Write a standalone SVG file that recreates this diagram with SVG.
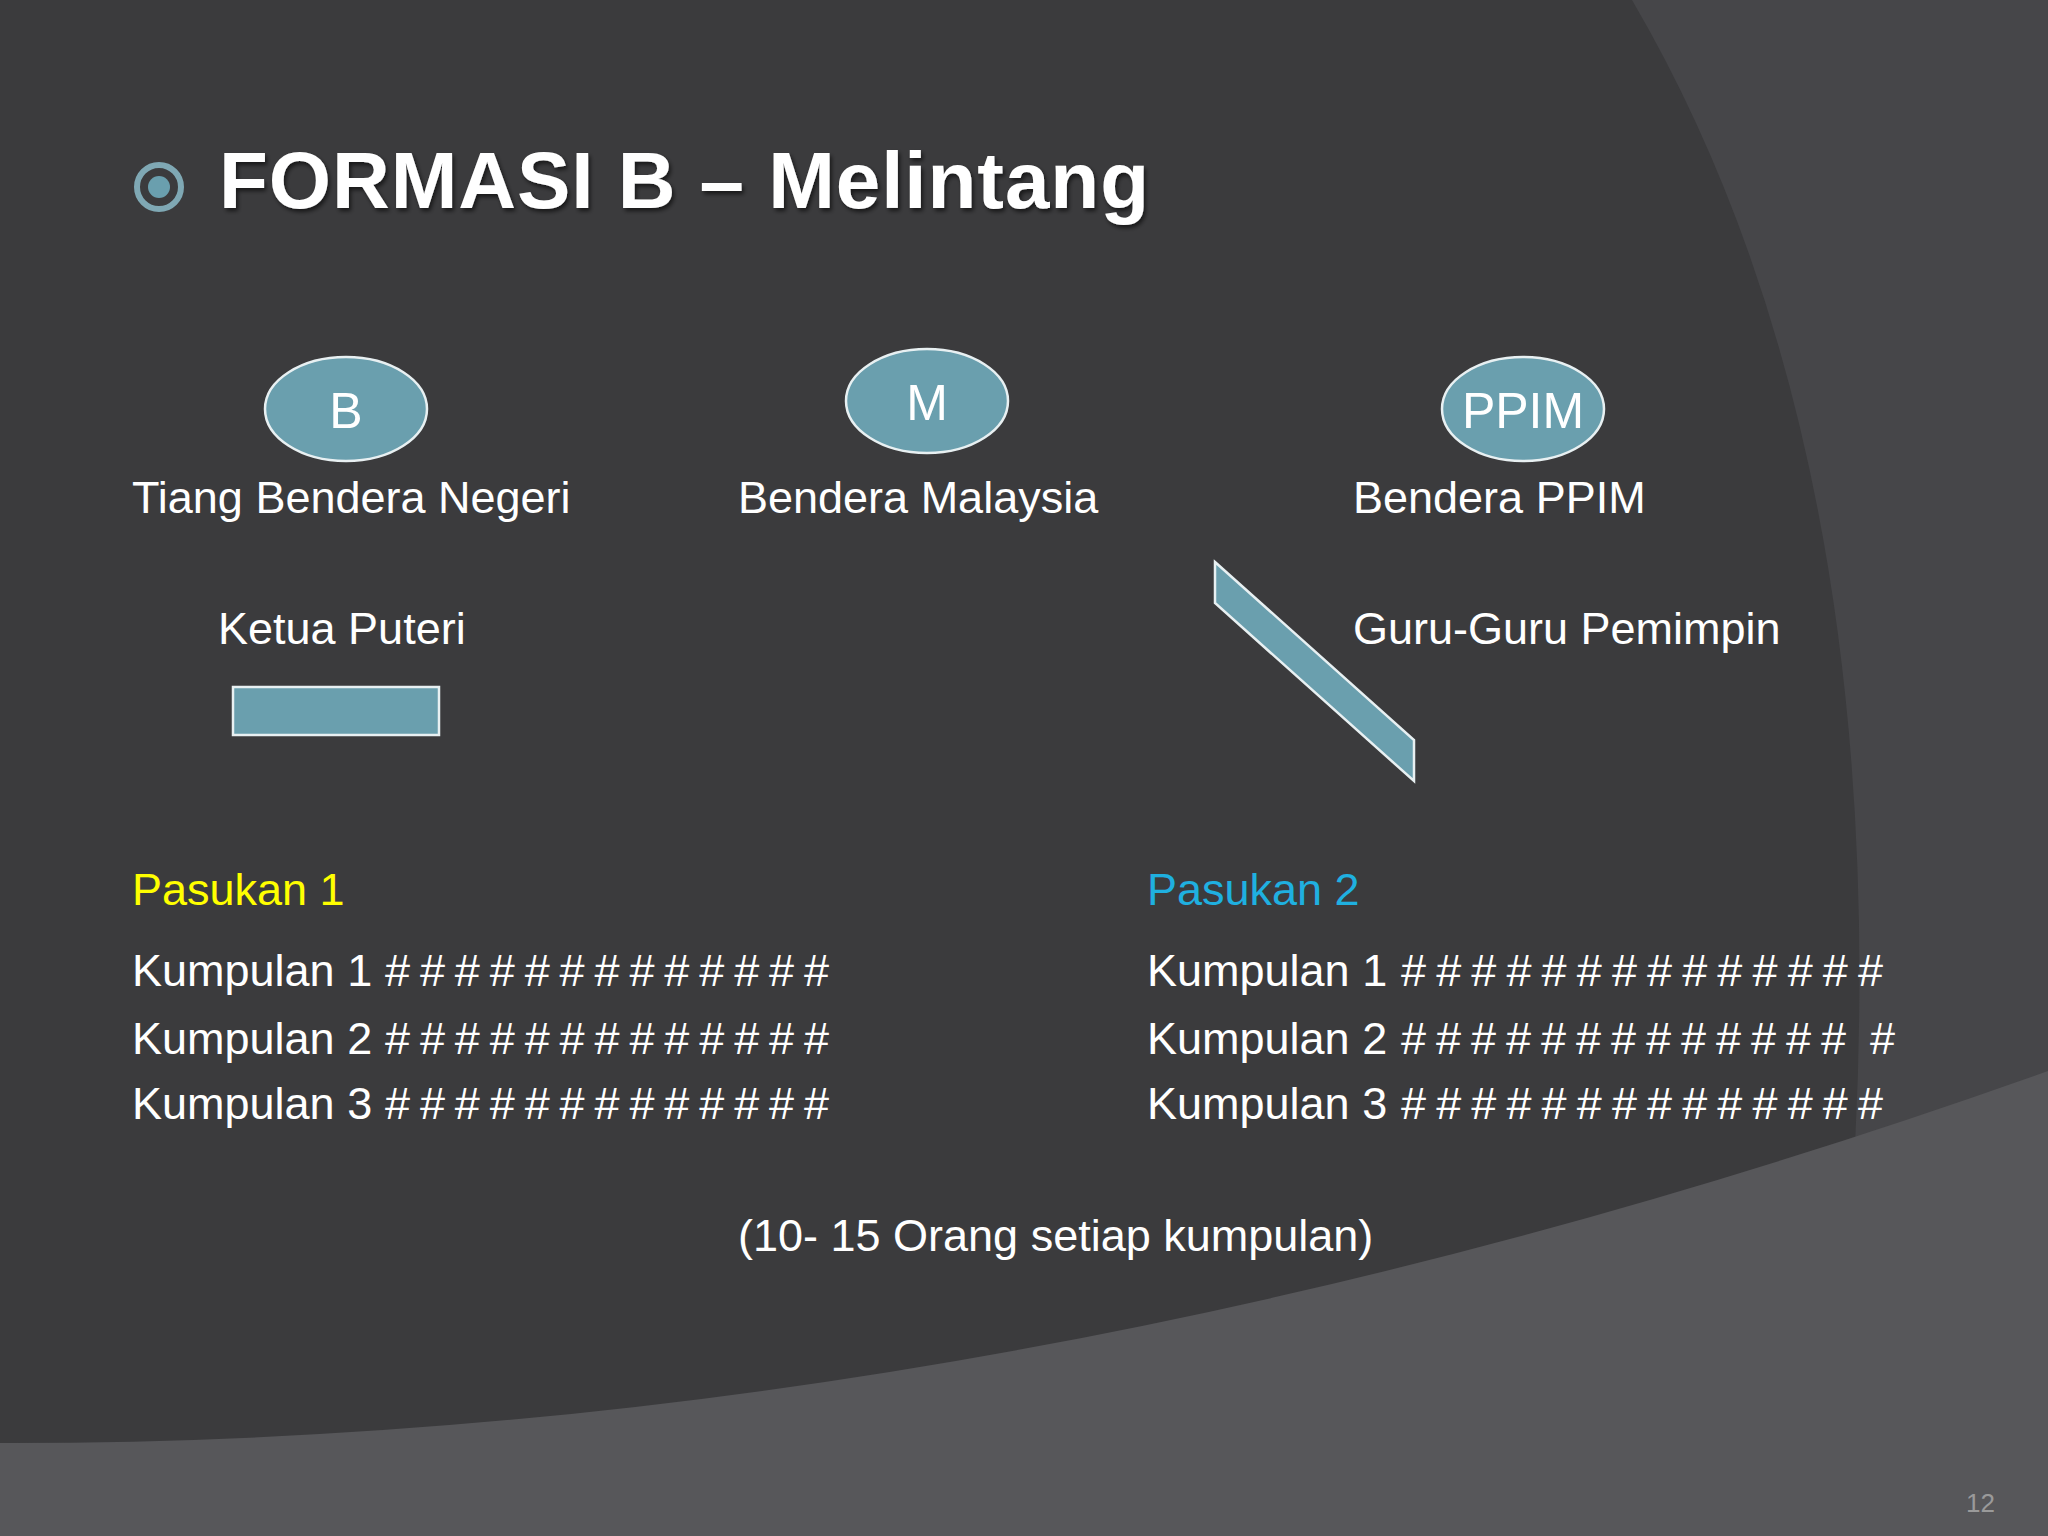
<svg xmlns="http://www.w3.org/2000/svg" width="2048" height="1536" viewBox="0 0 2048 1536">
<defs>
<style>
.t{font-family:"Liberation Sans",Arial,sans-serif;fill:#ffffff;font-size:45px}
.e{fill:#6a9fae;stroke:#e8f0f2;stroke-width:2.5}
.et{font-family:"Liberation Sans",Arial,sans-serif;fill:#ffffff;font-size:50px;text-anchor:middle}
</style>
<filter id="sh"><feDropShadow dx="2" dy="3" stdDeviation="2" flood-color="#000" flood-opacity="0.6"/></filter>
</defs>
<rect width="2048" height="1536" fill="#3b3b3d"/>
<path d="M1632,0 Q1960,560 1815,1536 L2048,1536 L2048,0 Z" fill="#464649"/>
<path d="M0,1443 Q1000,1445 2048,1071 L2048,1536 L0,1536 Z" fill="#57575a"/>
<g id="title">
<circle cx="159" cy="187" r="22" fill="none" stroke="#7fa8b4" stroke-width="6"/>
<circle cx="159" cy="187" r="11" fill="#6a9fae"/>
<text x="219" y="208" font-family="Liberation Sans,Arial,sans-serif" font-weight="bold" font-size="80" fill="#fff" filter="url(#sh)" textLength="930">FORMASI B – Melintang</text>
</g>
<g id="nodeB"><ellipse class="e" cx="346" cy="409" rx="81" ry="52"/><text class="et" x="346" y="428">B</text></g>
<g id="nodeM"><ellipse class="e" cx="927" cy="401" rx="81" ry="52"/><text class="et" x="927" y="420">M</text></g>
<g id="nodePPIM"><ellipse class="e" cx="1523" cy="409" rx="81" ry="52"/><text class="et" x="1523" y="428">PPIM</text></g>
<g id="labels">
<text class="t" x="132" y="513">Tiang Bendera Negeri</text>
<text class="t" x="738" y="513">Bendera Malaysia</text>
<text class="t" x="1353" y="513">Bendera PPIM</text>
<text class="t" x="218" y="644">Ketua Puteri</text>
<text class="t" x="1353" y="644">Guru-Guru Pemimpin</text>
</g>
<g id="ketua"><rect x="233" y="687" width="206" height="48" fill="#6a9fae" stroke="#e8f0f2" stroke-width="2.5"/></g>
<g id="guru"><polygon points="1215,562 1414,740 1414,781 1215,603" fill="#6a9fae" stroke="#e8f0f2" stroke-width="2.5"/></g>
<g id="pasukan1">
<text class="t" x="132" y="905" style="fill:#ffff00">Pasukan 1</text>
<text class="t" x="132" y="986">Kumpulan 1 <tspan x="385" textLength="444"># # # # # # # # # # # # #</tspan></text>
<text class="t" x="132" y="1054">Kumpulan 2 <tspan x="385" textLength="444"># # # # # # # # # # # # #</tspan></text>
<text class="t" x="132" y="1119">Kumpulan 3 <tspan x="385" textLength="444"># # # # # # # # # # # # #</tspan></text>
</g>
<g id="pasukan2">
<text class="t" x="1147" y="905" style="fill:#1fb0e0">Pasukan 2</text>
<text class="t" x="1147" y="986">Kumpulan 1 <tspan x="1401" textLength="482"># # # # # # # # # # # # # #</tspan></text>
<text class="t" x="1147" y="1054">Kumpulan 2 <tspan x="1401" textLength="445"># # # # # # # # # # # # #</tspan><tspan x="1870">#</tspan></text>
<text class="t" x="1147" y="1119">Kumpulan 3 <tspan x="1401" textLength="482"># # # # # # # # # # # # # #</tspan></text>
</g>
<text class="t" x="738" y="1251">(10- 15 Orang setiap kumpulan)</text>
<text x="1966" y="1512" font-family="Liberation Sans,Arial,sans-serif" font-size="26" fill="#9a9a9a">12</text>
</svg>
